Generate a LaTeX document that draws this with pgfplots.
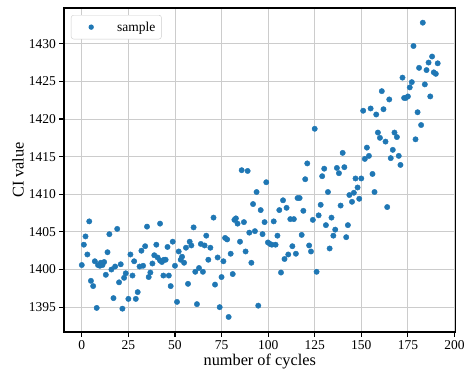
\documentclass[border=0pt]{standalone}
\usepackage{fontspec}
\setmainfont{Liberation Serif}
\usepackage{pgfplots}
\usepackage{pgfplotstable}
\pgfplotsset{compat=1.18}
\definecolor{mplblue}{HTML}{1F77B4}
\pgfplotstableread{
x y
0.0 1400.6
1.1 1403.3
2.0 1404.4
3.0 1402.0
4.0 1406.4
4.9 1398.5
6.1 1397.8
7.0 1401.1
8.0 1394.9
8.7 1400.6
9.7 1400.5
10.2 1400.9
11.1 1400.6
12.0 1401.0
12.9 1399.3
13.8 1402.3
14.8 1404.7
15.9 1400.0
17.0 1396.2
17.9 1400.4
19.0 1405.4
20.0 1398.3
20.9 1400.7
21.8 1394.8
22.7 1398.9
23.6 1399.5
25.0 1396.1
26.1 1402.0
27.2 1399.2
28.1 1401.1
29.0 1396.1
30.0 1397.0
31.0 1400.4
32.0 1402.5
32.9 1400.5
34.0 1403.1
35.0 1405.7
35.9 1399.0
36.8 1399.6
37.9 1400.8
38.9 1401.9
40.0 1403.3
40.7 1401.6
42.0 1401.2
42.0 1406.1
43.0 1401.0
43.8 1399.2
44.1 1401.3
45.0 1401.3
46.0 1403.0
46.7 1399.2
47.7 1397.8
48.8 1403.7
50.0 1400.5
51.1 1395.7
52.0 1402.4
53.1 1401.3
53.8 1401.7
54.9 1400.9
55.9 1402.9
57.0 1398.1
57.9 1403.7
58.8 1403.2
60.0 1405.6
60.9 1399.7
61.8 1395.4
62.9 1400.2
63.9 1403.4
65.0 1399.7
65.9 1403.2
66.8 1404.5
67.9 1401.3
69.0 1402.9
70.7 1406.9
71.5 1398.0
72.9 1401.6
74.0 1395.0
75.0 1399.0
76.0 1401.1
76.9 1404.2
78.0 1404.0
78.8 1393.7
79.9 1402.1
81.0 1399.4
81.9 1406.6
82.7 1406.8
83.6 1406.1
84.9 1403.7
85.8 1413.2
87.0 1406.3
87.9 1402.4
89.0 1413.1
89.9 1404.9
91.0 1400.9
91.9 1408.7
92.9 1405.1
93.8 1410.3
94.7 1395.2
96.0 1407.9
97.0 1404.7
98.1 1406.3
99.0 1411.6
99.9 1403.6
101.0 1403.4
102.0 1403.3
103.0 1406.4
104.0 1403.3
105.0 1404.5
106.0 1407.9
106.9 1399.6
108.0 1409.2
108.8 1401.4
109.9 1408.2
110.8 1402.0
111.9 1406.7
113.0 1403.1
113.8 1406.7
114.9 1402.1
115.8 1409.5
116.9 1409.5
118.0 1404.6
118.9 1407.8
119.9 1412.0
121.0 1414.1
122.0 1403.2
123.0 1402.4
124.0 1406.6
125.0 1418.7
126.0 1399.7
127.1 1407.2
128.2 1408.6
129.0 1412.4
130.1 1413.4
131.0 1405.9
132.1 1410.3
133.0 1402.8
134.0 1406.9
135.0 1404.5
136.0 1405.3
136.9 1413.5
138.0 1412.8
138.9 1408.5
140.0 1415.5
140.9 1413.6
141.9 1404.3
142.8 1405.9
143.6 1409.9
145.0 1409.0
146.0 1410.2
146.9 1412.1
148.0 1410.9
148.9 1409.4
150.0 1412.1
151.0 1421.1
151.9 1414.7
153.0 1416.2
154.1 1415.1
155.0 1421.4
156.0 1412.7
157.1 1410.3
158.0 1420.6
158.9 1418.2
160.0 1417.5
161.0 1423.7
161.9 1421.3
163.0 1417.0
163.9 1408.3
165.0 1422.6
165.8 1414.8
166.9 1415.9
167.8 1418.2
169.1 1417.6
170.1 1415.1
171.0 1413.9
172.1 1425.5
173.0 1422.8
173.9 1422.8
175.0 1423.0
176.0 1424.2
177.1 1424.9
178.0 1429.7
179.1 1417.3
180.2 1420.9
181.0 1426.8
182.1 1419.2
183.0 1432.8
184.1 1424.6
185.0 1426.5
186.1 1427.5
187.0 1423.0
188.0 1428.3
188.9 1426.2
190.0 1426.0
191.0 1427.4
}\sampledata
\begin{document}
\begin{tikzpicture}
\useasboundingbox (-64pt,-49pt) rectangle (410pt,332pt);
\begin{axis}[
  at={(0pt,0pt)}, anchor=south west,
  scale only axis, width=391.5pt, height=324pt,
  xmin=-9.55, xmax=200.55, ymin=1391.7, ymax=1434.75,
  xtick={0,25,...,200}, ytick={1395,1400,...,1430},
  grid=major, major grid style={draw=black!20, line width=0.9pt},
  axis line style={line width=1.1pt},
  tick align=outside, tick pos=left, major tick length=4.7pt,
  tick style={black, line width=1.1pt},
  ticklabel style={font=\fontsize{13.5}{16}\selectfont},
  /pgf/number format/assume math mode=true,
  /pgf/number format/1000 sep={},
  xlabel={number of cycles}, ylabel={CI value},
  label style={font=\fontsize{16.3}{19}\selectfont},
  xlabel style={at={(axis description cs:0.5,0)}, anchor=north, inner sep=0pt, yshift=-22pt},
  ylabel style={at={(axis description cs:-0.1022,0.5)}, anchor=south, inner sep=0pt},
  legend style={at={(axis description cs:0,1)}, anchor=north west, xshift=7pt, yshift=-7pt,
    draw=black!20, rounded corners=2.5pt, fill=white,
    font=\fontsize{13.5}{16}\selectfont, inner xsep=4pt, inner ysep=4.5pt},
]
\addplot[only marks, mark=*, mark size=2.7pt, color=mplblue, mark options={draw=mplblue, fill=mplblue},
  legend image code/.code={\path[draw=none] (0pt,0pt) -- (40pt,0pt); \fill[mplblue, draw=none] (16pt,0pt) circle (2.7pt);}] table {\sampledata};
\addlegendentry{sample}
\end{axis}
\end{tikzpicture}
\end{document}
